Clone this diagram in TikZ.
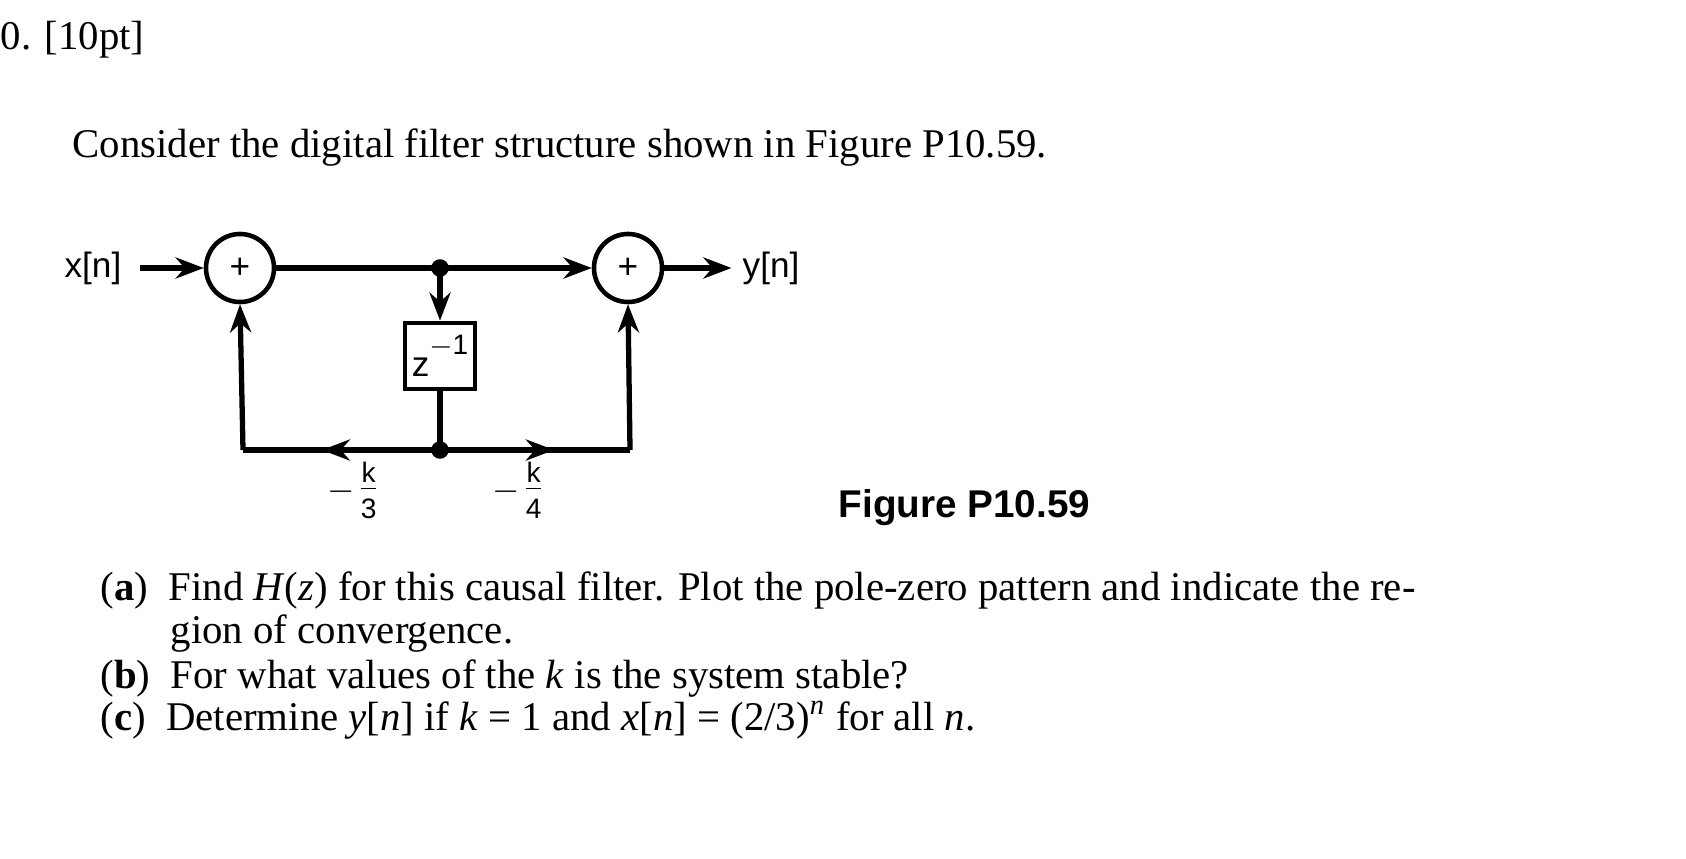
\documentclass[tikz,border=0pt]{standalone}
\usepackage{fontspec}
\setmainfont{Liberation Serif}
\newfontfamily\sfx{Liberation Sans}
\usetikzlibrary{arrows.meta,decorations.markings}
\begin{document}
\begin{tikzpicture}[x=0.01cm,y=-0.01cm,
  txt/.style={anchor=base west,inner sep=0,font=\fontsize{11.6}{14}\selectfont},
  dg/.style={font=\sfx\fontsize{10}{12}\selectfont,inner sep=0},
  sumnode/.style={circle,draw,line width=1.3pt,minimum size=0.68cm,inner sep=0,font=\sfx\fontsize{10}{12}\selectfont},
  wire/.style={line width=1.5pt},
  arr/.style={wire,-{Stealth[length=8pt,width=6pt]}},
  midarr/.style={wire,postaction={decorate},decoration={markings,mark=at position #1 with {\arrow{Stealth[length=8pt,width=6pt]}}}}]
\fill[white] (0,0) rectangle (1686,858);
\useasboundingbox (0,0) rectangle (1686,858);
\node[txt] (hdr) at (0,50) {0. [10pt]};
\node[txt] (cons) at (72,158) {Consider the digital filter structure shown in Figure P10.59.};
\node[dg,anchor=east] (x) at (122,268) {x[n]};
\node[sumnode] (s1) at (240,268) {+};
\node[sumnode] (s2) at (628,268) {+};
\node[dg,anchor=west] (y) at (742,268) {y[n]};
\coordinate (j1) at (440,268);
\node[draw,line width=1.3pt,minimum width=0.7cm,minimum height=0.66cm,inner sep=0,font=\sfx\fontsize{10}{12}\selectfont] (d) at (440,356) {z\raisebox{1.2ex}{\fontsize{8}{9}\selectfont $-$1}};
\coordinate (j2) at (440,450);
\coordinate (bl) at (243,450);
\coordinate (br) at (630,450);
\draw[arr] ([xshift=5pt]x.east) -- (s1);
\draw[arr] (s1) -- (s2);
\draw[arr] (s2) -- ([xshift=-3pt]y.west);
\draw[arr] (j1) -- (d.north);
\draw[wire] (d.south) -- (j2);
\draw[midarr=0.6] (j2) -- (bl);
\draw[midarr=0.6] (j2) -- (br);
\draw[arr] (bl) -- (s1.south);
\draw[arr] (br) -- (s2.south);
\fill (j1) circle (2.5pt);
\fill (j2) circle (2.5pt);
\node[dg] (k3) at (352,492) {$-$\,$\vcenter{\hbox{\begin{tabular}{@{}c@{}}\fontsize{8}{8}\selectfont k\\[-2pt]\hline\rule{0pt}{8pt}\fontsize{8}{8}\selectfont 3\end{tabular}}}$};
\node[dg] (k4) at (517,492) {$-$\,$\vcenter{\hbox{\begin{tabular}{@{}c@{}}\fontsize{8}{8}\selectfont k\\[-2pt]\hline\rule{0pt}{8pt}\fontsize{8}{8}\selectfont 4\end{tabular}}}$};
\node[anchor=base west,inner sep=0,font=\sfx\bfseries\fontsize{11}{13}\selectfont] (fig) at (838,517) {Figure P10.59};
\node[txt] (a) at (100,600) {(\textbf{a})\ \ Find \textit{H}(\textit{z}) for this causal filter. Plot the pole-zero pattern and indicate the re-};
\node[txt] (a2) at (170,643) {gion of convergence.};
\node[txt] (b) at (100,688) {(\textbf{b})\ \ For what values of the \textit{k} is the system stable?};
\node[txt] (c) at (100,730) {(\textbf{c})\ \ Determine \textit{y}[\textit{n}] if \textit{k} = 1 and \textit{x}[\textit{n}] = (2/3)\textsuperscript{\textit{n}} for all \textit{n}.};
\end{tikzpicture}
\end{document}
